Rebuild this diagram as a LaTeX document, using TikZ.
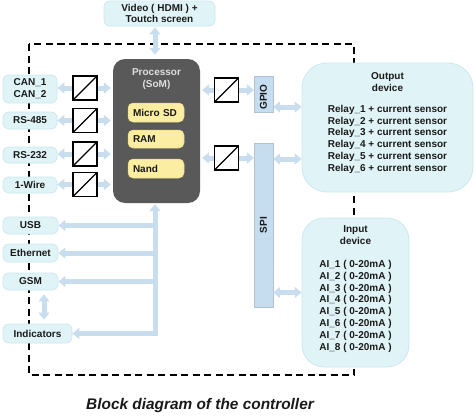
\documentclass[tikz,border=0pt]{standalone}
\usepackage{fontspec}
\usepackage{graphicx}
\setmainfont{Liberation Sans}
\usetikzlibrary{arrows.meta,calc}
\definecolor{boxc}{HTML}{E0F4F7}
\definecolor{boxe}{HTML}{CBE7EE}
\definecolor{busc}{HTML}{C6DCEF}
\definecolor{arrc}{HTML}{C8DDED}
\definecolor{procc}{HTML}{595959}
\definecolor{yelc}{HTML}{FBEDA2}
\definecolor{yele}{HTML}{EBD77E}
\definecolor{txtc}{HTML}{1A1A1A}
\tikzset{
  lbl/.style={font=\fontsize{10pt}{11.8pt}\selectfont\bfseries, text=txtc, align=center},
  sbox/.style={lbl, draw=boxe, line width=0.8pt, fill=boxc, rounded corners=6pt, inner sep=0pt},
  bigbox/.style={draw=boxe, line width=0.8pt, fill=boxc, inner sep=0pt},
  busbox/.style={lbl, fill=busc, draw=busc!85!black!90, line width=0.3pt, inner sep=0pt, minimum width=19pt},
  iso/.style={draw=black, line width=1.1pt, fill=white, minimum size=24pt, inner sep=0pt,
    path picture={\draw[black, line width=1.1pt] (path picture bounding box.south west) -- (path picture bounding box.north east);}},
  yel/.style={lbl, align=left, fill=yelc, draw=yele, line width=0.5pt, rounded corners=5pt, text width=46pt, inner xsep=5pt, inner ysep=0pt},
  fat/.style={draw=arrc, line width=5pt},
  tip/.tip={Triangle[width=11pt,length=7pt]},
  frame/.style={draw=black, line width=2.6pt, dash pattern=on 7pt off 4.5pt}
}
\begin{document}
\begin{tikzpicture}[x=1pt,y=-1pt]
\useasboundingbox (0,0) rectangle (474,418);
% dashed frame
\draw[frame] (29,44) rectangle (354,375);

% top video
\node[sbox, minimum width=111pt, minimum height=25pt] (video) at (159.5,13.5) {Video ( HDMI ) +\\Toutch screen};

% processor
\node[fill=procc, rounded corners=12pt, minimum width=87pt, minimum height=144pt, inner sep=0pt] (proc) at (156.5,131) {};
\node[lbl, text=white!88!black] (proctxt) at (156.5,79) {Processor\\(SoM)};
\node[yel, minimum height=19pt] (msd) at (156,112.5) {Micro SD};
\node[yel, minimum height=18pt] (ram) at (156,139) {RAM};
\node[yel, minimum height=19pt] (nand) at (156,168.5) {Nand};

% left interfaces
\node[sbox, minimum width=54pt, minimum height=28pt] (can) at (30,89) {CAN\_1\\CAN\_2};
\node[sbox, minimum width=54pt, minimum height=17pt] (rs485) at (30,120.5) {RS-485};
\node[sbox, minimum width=54pt, minimum height=16pt] (rs232) at (30,155) {RS-232};
\node[sbox, minimum width=54pt, minimum height=16pt] (wire) at (30,185) {1-Wire};
\node[sbox, minimum width=55pt, minimum height=17pt] (usb) at (30.5,225.5) {USB};
\node[sbox, minimum width=55pt, minimum height=18pt] (eth) at (30.5,253) {Ethernet};
\node[sbox, minimum width=55pt, minimum height=17pt] (gsm) at (30.5,281.5) {GSM};
\node[sbox, minimum width=69pt, minimum height=19pt] (ind) at (37.5,333.5) {Indicators};

% isolators
\node[iso] (i1) at (85,88) {};
\node[iso] (i2) at (85,120.5) {};
\node[iso] (i3) at (85,154) {};
\node[iso] (i4) at (85,184.5) {};
\node[iso] (r1) at (226.5,90) {};
\node[iso] (r2) at (226.5,158) {};

% buses
\node[busbox, minimum height=36pt] (gpio) at (263.5,94) {};
\node[lbl] (gpiotxt) at (263.5,97) {\rotatebox{90}{GPIO}};
\node[busbox, minimum height=164pt] (spi) at (263.5,225) {\rotatebox{90}{SPI}};

% output / input devices
\node[bigbox, rounded corners=25pt, minimum width=171pt, minimum height=129pt] (out) at (387.5,127.5) {};
\node[lbl] (outtxt) at (387.5,123) {Output\\device\\[9.2pt]Relay\_1 + current sensor\\Relay\_2 + current sensor\\Relay\_3 + current sensor\\Relay\_4 + current sensor\\Relay\_5 + current sensor\\Relay\_6 + current sensor};
\node[bigbox, rounded corners=22pt, minimum width=107pt, minimum height=149pt] (in) at (355.5,292.5) {};
\node[lbl] (intxt) at (355.5,289) {Input\\device\\[11.3pt]AI\_1 ( 0-20mA )\\AI\_2 ( 0-20mA )\\AI\_3 ( 0-20mA )\\AI\_4 ( 0-20mA )\\AI\_5 ( 0-20mA )\\AI\_6 ( 0-20mA )\\AI\_7 ( 0-20mA )\\AI\_8 ( 0-20mA )};

% arrows
\draw[fat, tip-tip, shorten <=1pt, shorten >=4pt] ([xshift=-4.5pt]video.south) -- ([xshift=-4.5pt]video.south |- proc.north);
\foreach \b/\i in {can/i1, rs485/i2, rs232/i3, wire/i4}{
  \draw[fat, -tip] (\i.west) -- (\i.west -| \b.east);
  \draw[fat, -tip, shorten >=2pt] (\i.east) -- (\i.east -| proc.west);
}
\draw[fat, -tip, shorten >=2pt] (r1.west) -- (r1.west -| proc.east);
\draw[fat, -tip] (r1.east) -- (r1.east -| gpio.west);
\draw[fat, -tip, shorten >=2pt] (r2.west) -- (r2.west -| proc.east);
\draw[fat, -tip] (r2.east) -- (r2.east -| spi.west);
\draw[fat, tip-tip] ([yshift=-13pt]gpio.east) -- ([yshift=-13pt]gpio.east -| out.west);
\draw[fat, tip-tip] ([yshift=-1pt]r2.east -| spi.east) -- ([yshift=-1pt]r2.east -| out.west);
\draw[fat, tip-tip] (in.west -| spi.east) -- (in.west);

% lower bus
\coordinate (bus) at (155,334);
\draw[fat, tip-tip, shorten >=1pt] (ind.east) -| ([xshift=-1.5pt]proc.south);
\foreach \b in {usb, eth, gsm}{
  \draw[fat, -tip] (\b.east -| bus) -- (\b.east);
}
\draw[fat, tip-tip, shorten <=4pt, shorten >=4pt] ([xshift=13.5pt]gsm.south) -- ([xshift=13.5pt]gsm.south |- ind.north);

% caption
\node[font=\fontsize{15.4pt}{18pt}\selectfont\bfseries\itshape, text=txtc] (cap) at (200,406) {Block diagram of the controller};
\end{tikzpicture}
\end{document}
